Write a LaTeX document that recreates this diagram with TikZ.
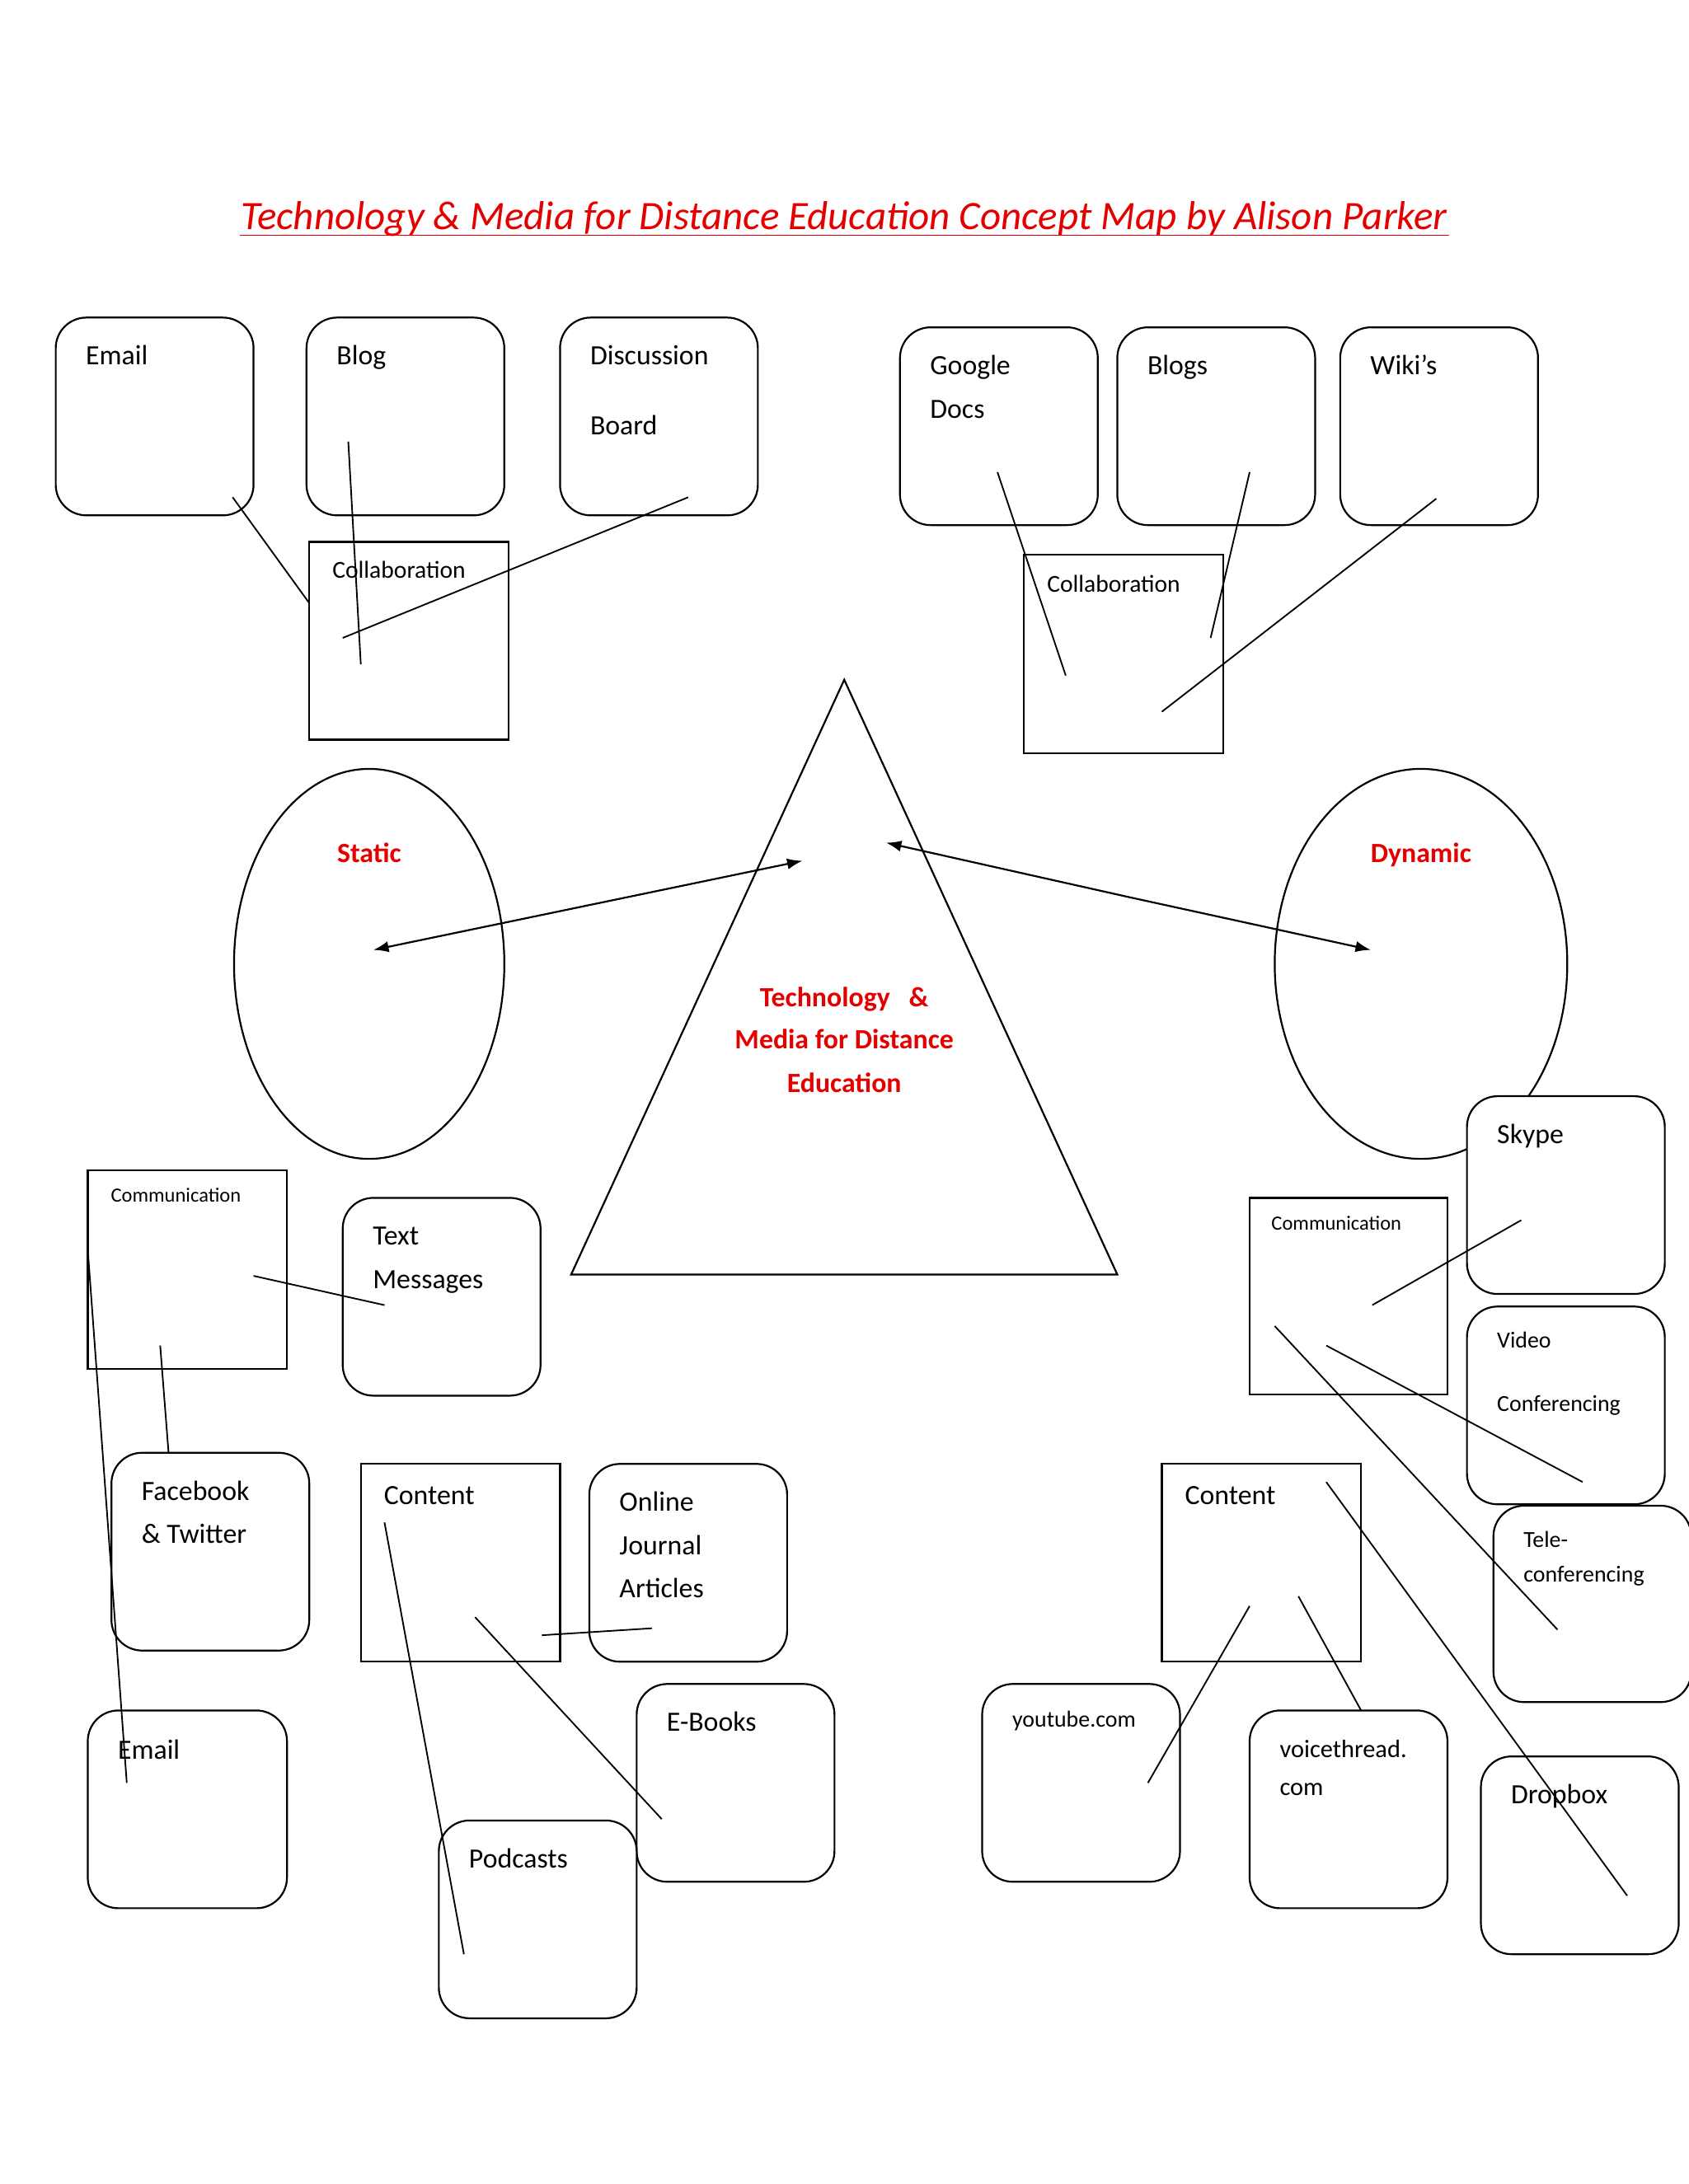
\documentclass[tikz,border=0pt]{standalone}
\usepackage{fontspec}
\setmainfont{Carlito}
\newfontfamily\titlefont{Carlito}
\usetikzlibrary{arrows.meta}
\begin{document}
\begin{tikzpicture}[x=1pt,y=-1pt,line width=1.3pt,
  rb/.style={draw,fill=white,rounded corners=22pt},
  sb/.style={draw,fill=white},
  lab/.style={anchor=base west,inner sep=0pt,font=\fontsize{20}{24}\selectfont},
  small/.style={anchor=base west,inner sep=0pt,font=\fontsize{14.5}{17}\selectfont},
  red/.style={anchor=base,inner sep=0pt,text=red!90!black,font=\bfseries\fontsize{20}{24}\selectfont},
  conn/.style={line width=1.1pt},
  ar/.style={line width=1.3pt,-{Latex[length=11pt,width=8pt]}}]
\useasboundingbox (0,0) rectangle (1212,1568);
\fill[white] (0,0) rectangle (1212,1568);
% title
\node[anchor=base,inner sep=0pt,text=red!90!black,font=\titlefont\itshape\fontsize{29}{34}\selectfont] (title) at (606,165) {Technology \& Media for Distance Education Concept Map by Alison Parker};
\draw[red!90!black,line width=1pt] (172,169) -- (1040,169);
% ellipses and triangle
\draw (265,692) ellipse [x radius=97,y radius=140];
\draw (1020,692) ellipse [x radius=105,y radius=140];
\draw (606,488) -- (410,915) -- (802,915) -- cycle;
\node[red] at (265,619) {Static};
\node[red] at (1020,619) {Dynamic};
\node[red] at (606,723) {Technology\ \ \ \&};
\node[red] at (606,753) {Media for Distance};
\node[red] at (606,784) {Education};
\draw[ar] (422,650) -- (268,682);
\draw[ar] (422,650) -- (576,618);
\draw[ar] (810,644) -- (636,605);
\draw[ar] (810,644) -- (984,682);
% top left
\draw[rb] (40,228) rectangle (182,370); \node[lab] at (61,262) {Email};
\draw[rb] (220,228) rectangle (362,370); \node[lab] at (241,262) {Blog};
\draw[rb] (402,228) rectangle (544,370); \node[lab] at (423,262) {Discussion}; \node[lab] at (423,312) {Board};
\draw[sb] (222,389) rectangle (365,531); \node[small,font=\fontsize{17.5}{20}\selectfont] at (238,415) {Collaboration};
% top right
\draw[rb] (646,235) rectangle (788,377); \node[lab] at (667,269) {Google}; \node[lab] at (667,300) {Docs};
\draw[rb] (802,235) rectangle (944,377); \node[lab] at (823,269) {Blogs};
\draw[rb] (962,235) rectangle (1104,377); \node[lab] at (983,269) {Wiki’s};
\draw[sb] (735,398) rectangle (878,541); \node[small,font=\fontsize{17.5}{20}\selectfont] at (751,425) {Collaboration};
% bottom left
\draw[sb] (63,840) rectangle (206,983); \node[small] at (79,863) {Communication};
\draw[rb] (246,860) rectangle (388,1002); \node[lab] at (267,894) {Text}; \node[lab] at (267,925) {Messages};
\draw[rb] (80,1043) rectangle (222,1185); \node[lab] at (101,1077) {Facebook}; \node[lab] at (101,1108) {\& Twitter};
\draw[rb] (63,1228) rectangle (206,1370); \node[lab] at (84,1263) {Email};
\draw[sb] (259,1051) rectangle (402,1193); \node[lab] at (275,1080) {Content};
\draw[rb] (423,1051) rectangle (565,1193); \node[lab] at (444,1085) {Online}; \node[lab] at (444,1116) {Journal}; \node[lab] at (444,1147) {Articles};
\draw[rb] (457,1209) rectangle (599,1351); \node[lab] at (478,1243) {E-Books};
\draw[rb] (315,1307) rectangle (457,1449); \node[lab] at (336,1341) {Podcasts};
% bottom right
\draw[rb] (1053,787) rectangle (1195,929); \node[lab] at (1074,821) {Skype};
\draw[sb] (897,860) rectangle (1039,1001); \node[small] at (912,883) {Communication};
\draw[rb] (1053,938) rectangle (1195,1080); \node[small,font=\fontsize{16.5}{19}\selectfont] at (1074,968) {Video}; \node[small,font=\fontsize{16.5}{19}\selectfont] at (1074,1013) {Conferencing};
\draw[rb] (1072,1081) rectangle (1214,1222); \node[small,font=\fontsize{16.5}{19}\selectfont] at (1093,1111) {Tele-}; \node[small,font=\fontsize{16.5}{19}\selectfont] at (1093,1136) {conferencing};
\draw[sb] (834,1051) rectangle (977,1193); \node[lab] at (850,1080) {Content};
\draw[rb] (705,1209) rectangle (847,1351); \node[small,font=\fontsize{16.5}{19}\selectfont] at (726,1240) {youtube.com};
\draw[rb] (897,1228) rectangle (1039,1370); \node[small,font=\fontsize{18}{20}\selectfont] at (918,1262) {voicethread.}; \node[small,font=\fontsize{18}{20}\selectfont] at (918,1289) {com};
\draw[rb] (1063,1261) rectangle (1205,1403); \node[lab] at (1084,1295) {Dropbox};
% connector lines
\begin{scope}[conn]
\draw (167,357) -- (222,433);
\draw (250,317) -- (259,477);
\draw (494,357) -- (246,458);
\draw (716,339) -- (765,485);
\draw (897,339) -- (869,458);
\draw (1031,358) -- (834,511);
\draw (182,916) -- (276,937);
\draw (115,966) -- (121,1043);
\draw (63,897) -- (91,1280);
\draw (389,1174) -- (468,1169);
\draw (341,1161) -- (475,1306);
\draw (276,1093) -- (333,1403);
\draw (1092,876) -- (985,937);
\draw (952,966) -- (1136,1064);
\draw (915,952) -- (1118,1170);
\draw (897,1153) -- (824,1280);
\draw (932,1146) -- (977,1228);
\draw (952,1064) -- (1168,1361);
\end{scope}
\end{tikzpicture}
\end{document}
